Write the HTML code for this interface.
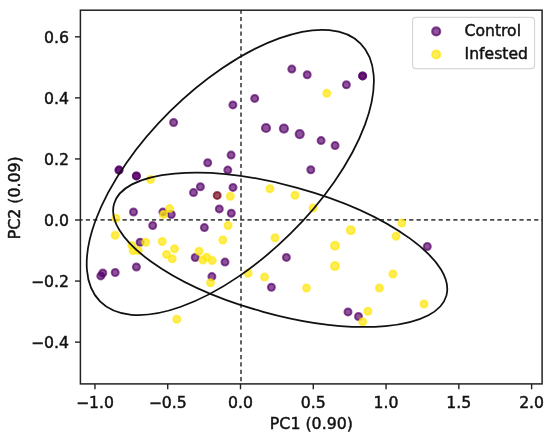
<!DOCTYPE html>
<html><head><meta charset="utf-8"><title>PCA</title>
<style>
html,body{margin:0;padding:0;background:#fff;}
svg{display:block;}
text{font-family:"DejaVu Sans","Liberation Sans",sans-serif;fill:#111;stroke:#111;stroke-width:.45px;}
.t{font-size:15.7px;}
.l{font-size:15.8px;}
.g{font-size:15.6px;}
.c circle{fill:#560268;stroke:#560268;fill-opacity:.68;stroke-opacity:.68;stroke-width:2;}
.i circle{fill:#ffe70f;stroke:#ffe70f;fill-opacity:.7;stroke-opacity:.7;stroke-width:2;}
</style></head><body>
<svg width="550" height="436" viewBox="0 0 550 436">
<rect width="550" height="436" fill="#fff"/>

<g stroke="#4a4a4a" stroke-width="1.7" stroke-dasharray="4.2 3.15" fill="none">
<line x1="80.4" y1="219.9" x2="542.1" y2="219.9" stroke-dashoffset="1.95"/>
<line x1="241" y1="383.9" x2="241" y2="10.2" stroke-dashoffset="4.7"/>
</g>
<g class="c">
<circle cx="291.8" cy="69.1" r="3.5"/>
<circle cx="307.2" cy="74.8" r="3.5"/>
<circle cx="346.4" cy="84.8" r="3.5"/>
<circle cx="362.6" cy="75.9" r="3.5"/>
<circle cx="362.6" cy="75.9" r="3.5"/>
<circle cx="254.7" cy="98.4" r="3.5"/>
<circle cx="232.9" cy="104.9" r="3.5"/>
<circle cx="266" cy="128" r="4.1"/>
<circle cx="283.9" cy="128.6" r="4.1"/>
<circle cx="299.7" cy="134.1" r="4.1"/>
<circle cx="321.1" cy="140.6" r="3.5"/>
<circle cx="335.1" cy="145.6" r="3.5"/>
<circle cx="231.1" cy="155.1" r="3.5"/>
<circle cx="173.6" cy="122.5" r="3.5"/>
<circle cx="119" cy="170.1" r="3.5"/>
<circle cx="119" cy="170.1" r="3.5"/>
<circle cx="136.4" cy="175.9" r="3.5"/>
<circle cx="136.4" cy="175.9" r="3.5"/>
<circle cx="133.5" cy="212" r="3.5"/>
<circle cx="207.7" cy="162.7" r="3.5"/>
<circle cx="227.8" cy="170.1" r="3.5"/>
<circle cx="200.4" cy="186.7" r="3.5"/>
<circle cx="193.5" cy="192.6" r="3.5"/>
<circle cx="233" cy="187.4" r="3.5"/>
<circle cx="219.3" cy="208.9" r="3.5"/>
<circle cx="231.3" cy="213.3" r="3.5"/>
<circle cx="152.7" cy="225.5" r="3.5"/>
<circle cx="140.1" cy="242.2" r="3.5"/>
<circle cx="162.9" cy="212.1" r="3.5"/>
<circle cx="171.3" cy="214.5" r="3.5"/>
<circle cx="204.4" cy="227.6" r="3.5"/>
<circle cx="195.2" cy="257.5" r="3.5"/>
<circle cx="225" cy="262.1" r="3.5"/>
<circle cx="211.9" cy="276.6" r="3.5"/>
<circle cx="136.4" cy="267" r="3.5"/>
<circle cx="115.2" cy="272.5" r="3.5"/>
<circle cx="102.8" cy="273" r="3.5"/>
<circle cx="100.8" cy="275.9" r="3.5"/>
<circle cx="310.8" cy="169.8" r="3.5"/>
<circle cx="286.4" cy="257.4" r="3.5"/>
<circle cx="271.4" cy="287.3" r="3.5"/>
<circle cx="348" cy="311.9" r="3.5"/>
<circle cx="358.5" cy="316.5" r="3.5"/>
<circle cx="427.3" cy="246.5" r="3.5"/>
</g>
<g><circle cx="217.2" cy="195.4" r="3.5" fill="#7a0a20" stroke="#7a0a20" fill-opacity=".72" stroke-opacity=".72" stroke-width="2"/></g>
<g class="i">
<circle cx="326.8" cy="93.2" r="3.5"/>
<circle cx="150.5" cy="179.5" r="3.5"/>
<circle cx="230.3" cy="196.3" r="3.5"/>
<circle cx="169.5" cy="208.6" r="3.5"/>
<circle cx="163.6" cy="214.5" r="3.5"/>
<circle cx="115.9" cy="218.2" r="3.5"/>
<circle cx="115.2" cy="235.3" r="3.5"/>
<circle cx="145.7" cy="242.2" r="3.5"/>
<circle cx="131.9" cy="245.5" r="3.5"/>
<circle cx="133.1" cy="250.6" r="3.5"/>
<circle cx="138.2" cy="250.6" r="3.5"/>
<circle cx="162.2" cy="241.5" r="3.5"/>
<circle cx="228.1" cy="225.5" r="3.5"/>
<circle cx="222.8" cy="240" r="3.5"/>
<circle cx="174.5" cy="248.8" r="3.5"/>
<circle cx="166.5" cy="254.4" r="3.5"/>
<circle cx="172.2" cy="258.8" r="3.5"/>
<circle cx="199" cy="251.2" r="3.5"/>
<circle cx="202.9" cy="260" r="3.5"/>
<circle cx="206.8" cy="257.2" r="3.5"/>
<circle cx="212.2" cy="260.6" r="3.5"/>
<circle cx="210.5" cy="282.7" r="3.5"/>
<circle cx="176.8" cy="319.3" r="3.5"/>
<circle cx="269.9" cy="188.7" r="3.5"/>
<circle cx="295" cy="195.3" r="3.5"/>
<circle cx="313.1" cy="208" r="3.5"/>
<circle cx="350.8" cy="230.2" r="4"/>
<circle cx="275" cy="237.7" r="3.5"/>
<circle cx="335" cy="245.8" r="4"/>
<circle cx="335" cy="266.1" r="4"/>
<circle cx="248.2" cy="273.3" r="3.5"/>
<circle cx="264.5" cy="277.1" r="3.5"/>
<circle cx="306.5" cy="288" r="3.5"/>
<circle cx="367.9" cy="311.3" r="3.5"/>
<circle cx="362.7" cy="321.7" r="3.5"/>
<circle cx="401.8" cy="223.1" r="3.5"/>
<circle cx="396" cy="236.3" r="3.5"/>
<circle cx="392.9" cy="274" r="3.5"/>
<circle cx="379.4" cy="288" r="3.5"/>
<circle cx="424" cy="304" r="3.5"/>
</g>
<g fill="none" stroke="#111" stroke-width="1.75">
<ellipse cx="230.3" cy="172.45" rx="183.3" ry="85.8" transform="rotate(-44.7 230.3 172.45)"/>
<ellipse cx="280.2" cy="249.8" rx="172.4" ry="64.3" transform="rotate(15.41 280.2 249.8)"/>
</g>
<rect x="80.4" y="10.2" width="461.7" height="373.7" fill="none" stroke="#222" stroke-width="1.5"/>
<g stroke="#222" stroke-width="1.4">
<line x1="94.94" y1="383.9" x2="94.94" y2="389.3"/>
<line x1="167.72" y1="383.9" x2="167.72" y2="389.3"/>
<line x1="240.5" y1="383.9" x2="240.5" y2="389.3"/>
<line x1="313.28" y1="383.9" x2="313.28" y2="389.3"/>
<line x1="386.06" y1="383.9" x2="386.06" y2="389.3"/>
<line x1="458.84" y1="383.9" x2="458.84" y2="389.3"/>
<line x1="531.62" y1="383.9" x2="531.62" y2="389.3"/>
<line x1="75" y1="36.82" x2="80.4" y2="36.82"/>
<line x1="75" y1="97.88" x2="80.4" y2="97.88"/>
<line x1="75" y1="158.94" x2="80.4" y2="158.94"/>
<line x1="75" y1="220" x2="80.4" y2="220"/>
<line x1="75" y1="281.06" x2="80.4" y2="281.06"/>
<line x1="75" y1="342.12" x2="80.4" y2="342.12"/>
</g>
<g class="t" text-anchor="middle">
<text x="94.94" y="407.9">−1.0</text>
<text x="167.72" y="407.9">−0.5</text>
<text x="240.5" y="407.9">0.0</text>
<text x="313.28" y="407.9">0.5</text>
<text x="386.06" y="407.9">1.0</text>
<text x="458.84" y="407.9">1.5</text>
<text x="531.62" y="407.9">2.0</text>
</g>
<g class="t" text-anchor="end">
<text x="69" y="43.02">0.6</text>
<text x="69" y="104.08">0.4</text>
<text x="69" y="165.14">0.2</text>
<text x="69" y="226.2">0.0</text>
<text x="69" y="287.26">−0.2</text>
<text x="69" y="348.32">−0.4</text>
</g>
<text class="l" text-anchor="middle" x="311.4" y="429.2">PC1 (0.90)</text>
<text class="l" text-anchor="middle" transform="translate(19.9 197.8) rotate(-90)">PC2 (0.09)</text>
<rect x="412.6" y="17.4" width="122" height="51.2" rx="3" ry="3" fill="#fff" fill-opacity=".8" stroke="#d6d6d6" stroke-width="1.1"/>
<g class="c"><circle cx="436.2" cy="31.4" r="4" style="stroke-width:2.2"/></g>
<g class="i"><circle cx="436.2" cy="54.5" r="4" style="stroke-width:2.2"/></g>
<text class="g" x="464.6" y="36.0">Control</text>
<text class="g" x="464.6" y="59.1">Infested</text>
</svg>
</body></html>
